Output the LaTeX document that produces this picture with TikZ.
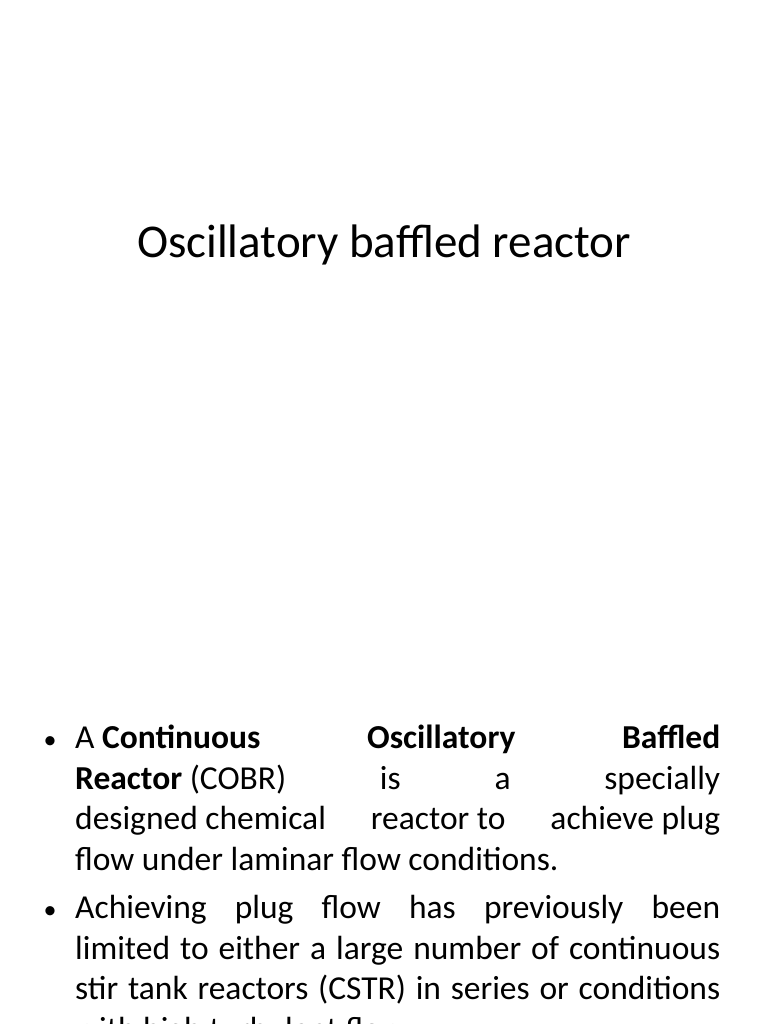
\documentclass[tikz,border=0pt]{standalone}
\usepackage{fontspec}
\setmainfont{Carlito}
\newcommand\jline[1]{\hbox to 645pt{#1}}
\begin{document}
\begin{tikzpicture}[x=1pt,y=1pt,
  ln/.style={anchor=base west,inner sep=0pt,font=\fontsize{33.5}{40}\selectfont},
  bul/.style={anchor=base,inner sep=0pt,font=\fontsize{26}{30}\selectfont}]
\useasboundingbox (0,0) rectangle (768,-1024);
\clip (0,0) rectangle (768,-1024);
\fill[white] (0,0) rectangle (768,-1024);
\node[anchor=base,inner sep=0pt,font=\fontsize{47}{56}\selectfont] (title) at (384,-258) {Oscillatory baffled reactor};
\node[bul] (b1) at (50,-748) {•};
\node[ln] (l1) at (75,-748) {\jline{A \textbf{Continuous}\hfill\textbf{Oscillatory}\hfill\textbf{Baffled}}};
\node[ln] (l2) at (75,-789) {\jline{\textbf{Reactor} (COBR)\hfill is\hfill a\hfill specially}};
\node[ln] (l3) at (75,-829) {\jline{designed chemical\hfill reactor to\hfill achieve plug}};
\node[ln] (l4) at (75,-870) {flow under laminar flow conditions.};
\node[bul] (b2) at (50,-918) {•};
\node[ln] (l5) at (75,-918) {\jline{Achieving\hfill plug\hfill flow\hfill has\hfill previously\hfill been}};
\node[ln] (l6) at (75,-959) {\jline{limited to either a large number of continuous}};
\node[ln] (l7) at (75,-999) {\jline{stir tank reactors (CSTR) in series or conditions}};
\node[ln] (l8) at (75,-1040) {with high turbulent flow.};
\end{tikzpicture}
\end{document}
